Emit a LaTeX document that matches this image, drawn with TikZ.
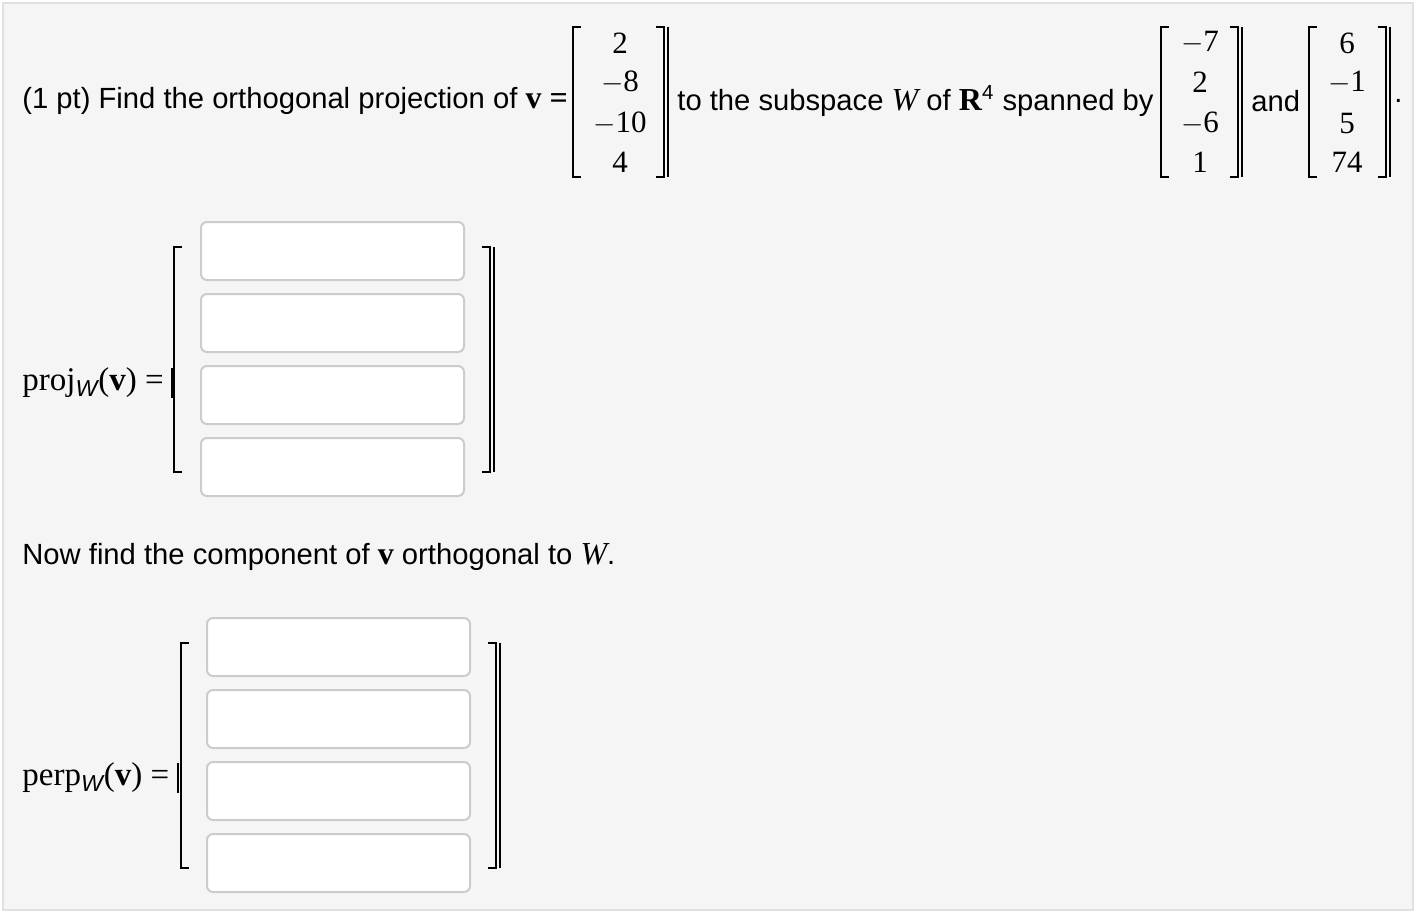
\documentclass[tikz,border=0pt]{standalone}
\usepackage{fontspec}
\setmainfont{Liberation Sans}
\newfontfamily\serif{Liberation Serif}
\begin{document}
\begin{tikzpicture}[x=0.5pt,y=-0.5pt,
  txt/.style={inner sep=0,anchor=west,font=\fontsize{14.6}{16}\selectfont},
  num/.style={inner sep=0,font=\fontsize{15.5}{17}\selectfont\serif},
  ansbox/.style={draw=black!20,line width=1pt,fill=white,rounded corners=3pt},
  brk/.style={line width=1.2pt}]
\useasboundingbox (0,0) rectangle (1416,912);
\fill[black!4] (3,3) rectangle (1413,910);
\draw[black!12,line width=1pt] (3,3) rectangle (1413,910);
% top line
\node[txt] (t1) at (22,101) {(1 pt) Find the orthogonal projection of {\serif\fontsize{16}{17}\selectfont\bfseries v =}};
\newcommand{\mybrackets}[4]{%
  \draw[brk] (#1+8,#3) -- (#1,#3) -- (#1,#4) -- (#1+8,#4);
  \draw[brk] (#2-8,#3) -- (#2,#3) -- (#2,#4) -- (#2-8,#4);
  \draw[line width=0.6pt] (#2+4,#3) -- (#2+4,#4);}
\mybrackets{573}{664}{27}{177}
\node[num] (a1) at (620,43) {2};
\node[num] (a2) at (620,82) {$-$8};
\node[num] (a3) at (620,123) {$-$10};
\node[num] (a4) at (620,162) {4};
\node[txt] (t2) at (677,101) {to the subspace {\serif\fontsize{16}{17}\selectfont\itshape W} of {\serif\fontsize{16}{17}\selectfont\bfseries R}\textsuperscript{4} spanned by};
\mybrackets{1161}{1238}{27}{177}
\node[num] (b1) at (1200,43) {$-$7};
\node[num] (b2) at (1200,82) {2};
\node[num] (b3) at (1200,123) {$-$6};
\node[num] (b4) at (1200,162) {1};
\node[txt] (t3) at (1251,101) {and};
\mybrackets{1309}{1386}{27}{177}
\node[num] (c1) at (1347,43) {6};
\node[num] (c2) at (1347,82) {$-$1};
\node[num] (c3) at (1347,123) {5};
\node[num] (c4) at (1347,162) {74};
\node[txt] (t4) at (1394,101) {.};
% proj
\node[txt,font=\fontsize{16.5}{18}\selectfont\serif] (pl) at (22,383) {proj$_{\mathit{W}}$(\textbf{v}) =};
\draw[line width=0.8pt] (172,368) -- (172,398);
\mybrackets{174}{490}{247}{472}
\foreach \y in {222,294,366,438}
  \draw[ansbox] (201,\y) rectangle (464,\y+58);
\node[txt] (t5) at (22,557) {Now find the component of {\serif\fontsize{16}{17}\selectfont\bfseries v} orthogonal to {\serif\fontsize{16}{17}\selectfont\itshape W}.};
% perp
\node[txt,font=\fontsize{16.5}{18}\selectfont\serif] (ql) at (22,778) {perp$_{\mathit{W}}$(\textbf{v}) =};
\draw[line width=0.8pt] (178,763) -- (178,793);
\mybrackets{181}{496}{643}{868}
\foreach \y in {618,690,762,834}
  \draw[ansbox] (207,\y) rectangle (470,\y+58);
\end{tikzpicture}
\end{document}
